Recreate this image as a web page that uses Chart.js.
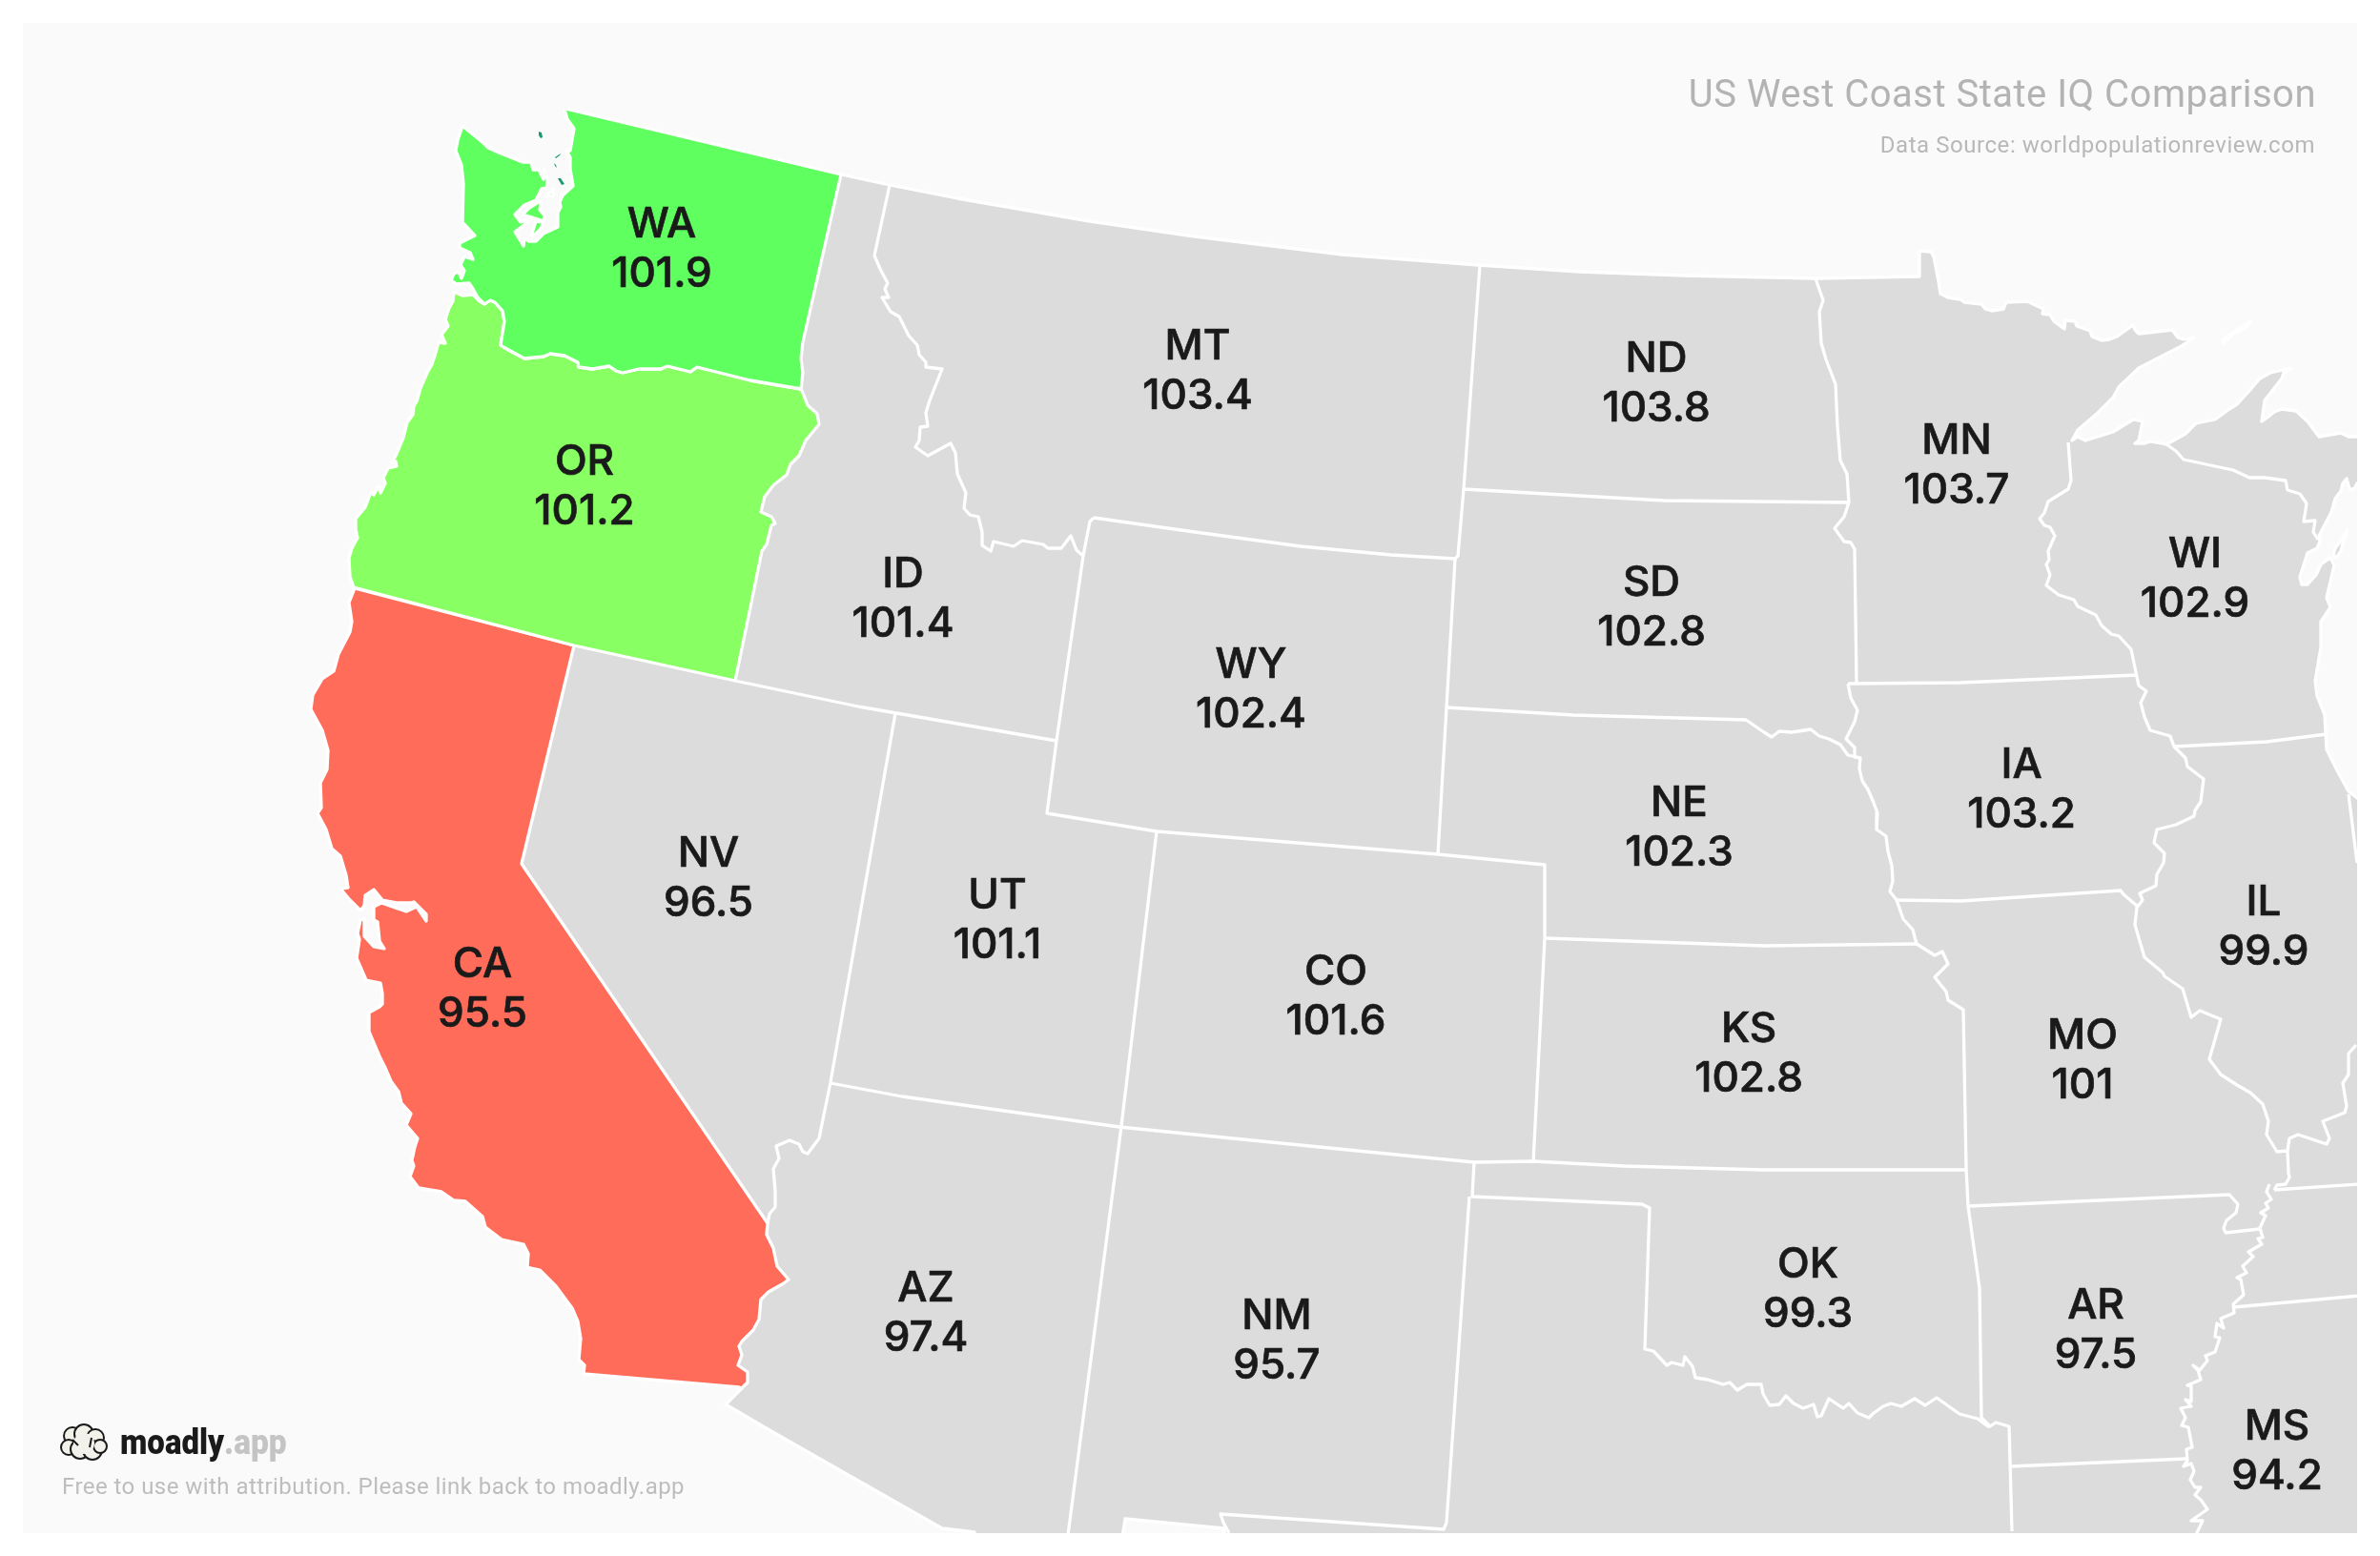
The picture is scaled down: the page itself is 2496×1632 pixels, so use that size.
<!DOCTYPE html>
<html>
<head>
<meta charset="utf-8">
<style>
  html, body { margin: 0; padding: 0; background: #ffffff; }
  #panel { position: absolute; left: 24px; top: 24px; width: 2448px; height: 1584px; background: #fafafa; }
</style>
<script src="https://cdn.jsdelivr.net/npm/chart.js@4/dist/chart.umd.js"></script>
</head>
<body>
<div id="panel"><canvas id="mapChart" width="2448" height="1584"></canvas></div>
<script>
// state labels and values
const stateCodes = ['WA','OR','CA','NV','ID','MT','WY','UT','CO','AZ','NM','ND','SD','NE','KS','OK','MN','IA','MO','AR','WI','IL','MS'];
const stateIQ = [101.9,101.2,95.5,96.5,101.4,103.4,102.4,101.1,101.6,97.4,95.7,103.8,102.8,102.3,102.8,99.3,103.7,103.2,101,97.5,102.9,99.9,94.2];
const labelX = [694,613,506,743,947,1256,1312,1046,1401,971,1339,1737,1732,1761,1834,1896,2052,2120,2184,2198,2302,2374,2388];
const labelY = [259,508,1035,919,626,387,721,963,1043,1375,1404,400,635,866,1103,1350,486,826,1110,1393,605,970,1520];

// map geometry, in map units
const waOrBorder = [[840,408],[787,399],[731,385],[724,390],[700,384],[693,387],[670,387],[653,391],[646,389],[639,384],[621,387],[607,385],[606,380],[592,373],[577,371],[570,374],[550,376],[528,364],[525,362],[529,337],[527,326],[519,317],[514,315],[508,319]];
const waOutline = [[593,114],[882,183],[842,359],[840,376],[842,391]].concat(waOrBorder,[[501,312],[496,303],[492,297],[479,298],[473,294],[476,287],[481,285],[484,292],[487,284],[483,278],[487,269],[496,272],[493,265],[482,260],[482,255],[498,247],[485,233],[486,193],[484,173],[478,158],[480,147],[485,132],[507,150],[512,155],[523,160],[548,170],[557,170],[559,178],[565,178],[570,188],[571,178],[574,188],[574,197],[568,198],[562,210],[550,215],[540,225],[546,233],[558,229],[547,238],[540,243],[549,258],[550,250],[555,253],[562,253],[570,245],[585,238],[585,223],[588,217],[587,212],[590,205],[601,195],[598,177],[598,165],[594,158],[598,158],[602,135],[595,125],[592,115],[593,114]]);
const kitsapOutline = [[548,225],[555,218],[568,210],[566,220],[571,226],[570,232],[558,228],[548,225]];
const bainbridgeOutline = [[573,205],[581,198],[580,205],[573,206],[573,205]];
const vashonOutline = [[557,248],[562,232],[570,233],[567,240],[560,247],[557,248]];
const islandA = [[565,138],[568,139],[569,144],[567,145],[565,142],[565,138]];
const islandB = [[585,187],[588,187],[592,193],[589,194],[585,187]];
const islandC = [[582,165],[588,161],[587,163],[583,166],[582,165]];
const islandD = [[581,171],[583,173],[584,176],[582,174],[581,171]];
const orOutline = [[476,306],[475,316],[471,323],[467,335],[470,342],[463,351],[467,360],[460,359],[456,373],[453,382],[448,391],[441,407],[437,421],[434,426],[433,435],[427,443],[423,459],[415,478],[411,485],[415,484],[416,489],[407,491],[402,501],[404,507],[399,517],[397,510],[392,519],[389,516],[383,532],[373,544],[373,555],[375,564],[369,575],[366,585],[367,605],[371,616],[602,677],[771,714],[787,637],[799,578],[804,571],[809,551],[813,549],[809,542],[798,537],[802,521],[811,509],[825,498],[829,487],[838,478],[845,462],[859,445],[857,434],[847,425],[842,412]].concat(waOrBorder,[[503,316],[496,309],[485,310],[476,306]]);
const caOutline = [[372,617],[602,677],[547,906],[805,1283],[804,1295],[811,1309],[815,1328],[827,1342],[822,1346],[806,1355],[798,1363],[796,1384],[790,1395],[778,1407],[775,1412],[778,1421],[774,1432],[784,1439],[784,1450],[778,1456],[775,1455],[612,1441],[613,1432],[607,1426],[609,1404],[606,1386],[600,1372],[583,1349],[572,1338],[566,1332],[557,1330],[553,1329],[554,1315],[549,1305],[526,1300],[509,1287],[506,1276],[488,1260],[476,1259],[463,1250],[439,1246],[430,1234],[434,1223],[432,1217],[435,1203],[438,1194],[426,1180],[431,1168],[421,1157],[418,1145],[410,1134],[404,1120],[398,1108],[387,1082],[387,1062],[398,1056],[401,1053],[401,1042],[399,1031],[384,1028],[374,1005],[377,985],[375,979],[378,965],[382,963],[382,982],[392,993],[403,995],[398,987],[396,967],[392,965],[392,951],[400,947],[426,956],[437,951],[447,966],[447,959],[434,946],[430,947],[417,947],[401,944],[392,933],[383,939],[382,950],[378,955],[367,944],[357,932],[365,931],[363,918],[357,898],[348,890],[342,870],[333,853],[337,847],[336,821],[343,807],[344,787],[338,766],[326,744],[328,729],[338,712],[350,704],[355,686],[367,663],[369,652],[366,632],[372,617]];
const landOutline = [[882,183],[933,194],[1004,208],[1143,232],[1253,248],[1408,267],[1551,278],[1657,285],[1767,289],[1904,292],[2013,290],[2013,263],[2025,264],[2028,269],[2033,295],[2035,308],[2043,312],[2056,314],[2060,317],[2078,319],[2082,324],[2089,326],[2101,324],[2104,317],[2126,316],[2143,324],[2142,329],[2150,330],[2154,337],[2165,345],[2166,336],[2176,337],[2178,342],[2192,347],[2194,353],[2204,357],[2212,356],[2220,353],[2237,341],[2239,346],[2243,350],[2278,346],[2284,354],[2290,356],[2301,354],[2286,364],[2274,370],[2243,386],[2222,406],[2216,417],[2200,433],[2179,451],[2173,462],[2179,458],[2187,462],[2216,453],[2237,440],[2247,442],[2243,462],[2239,465],[2249,465],[2255,463],[2272,466],[2292,455],[2303,444],[2323,440],[2338,429],[2346,424],[2358,411],[2370,397],[2381,391],[2403,386],[2395,391],[2393,397],[2375,420],[2372,442],[2379,437],[2385,432],[2393,429],[2408,431],[2420,442],[2432,458],[2455,454],[2463,458],[2472,458],[2490,458],[2490,507],[2472,507],[2469,513],[2464,513],[2461,502],[2457,507],[2455,515],[2449,523],[2445,537],[2432,562],[2433,568],[2430,575],[2420,580],[2412,605],[2414,613],[2420,613],[2429,603],[2434,592],[2444,585],[2448,593],[2440,627],[2444,637],[2434,652],[2434,679],[2428,714],[2430,730],[2438,750],[2440,786],[2451,808],[2463,830],[2472,837],[2490,837],[2490,1625],[1290,1625],[1283,1603],[1180,1593],[1175,1625],[1022,1625],[1022,1607],[988,1603],[900,1553],[807,1500],[761,1473],[778,1456],[770,1440],[720,1400],[500,1000],[500,700],[600,300],[650,200],[882,183]];
const isleRoyale = [[2331,356],[2360,337],[2356,343],[2342,350],[2331,361],[2331,356]];
const doorOutline = [[2462,555],[2455,567],[2449,575],[2447,582],[2450,585],[2455,578],[2457,570],[2462,555]];

// inner state lines
const borderLines = [
  [[933,194],[917,268],[923,282],[931,297],[928,303],[932,312],[925,312],[934,327],[943,332],[953,352],[962,362],[964,372],[971,380],[971,385],[988,387],[975,420],[971,433],[973,447],[965,448],[964,462],[960,469],[973,478],[997,465],[1002,475],[1004,497],[1013,517],[1011,533],[1017,540],[1026,542],[1030,558],[1030,572],[1039,578],[1042,568],[1063,573],[1072,567],[1094,571],[1099,575],[1113,575],[1123,562],[1129,577],[1136,583]],
  [[1147,543],[1143,547],[1136,583],[1108,777],[1098,853],[1213,872],[1508,896],[1517,742],[1526,586],[1459,582],[1364,573],[1253,558],[1147,543]],
  [[1552,278],[1535,513],[1529,583],[1526,586]],
  [[1535,513],[1657,520],[1745,525],[1939,527]],
  [[1904,292],[1912,315],[1908,327],[1910,360],[1915,377],[1925,403],[1927,447],[1930,483],[1937,497],[1939,527],[1934,542],[1924,554],[1934,568],[1941,569],[1945,576],[1947,716]],
  [[1938,717],[1941,732],[1948,745],[1945,757],[1936,775],[1945,784],[1945,794],[1951,795],[1950,806],[1953,819],[1959,828],[1965,842],[1969,853],[1968,870],[1978,877],[1980,893],[1984,908],[1985,924],[1982,935],[1989,944],[1996,964],[2006,975],[2010,990],[2029,1002],[2037,998],[2043,1011],[2029,1025],[2041,1040],[2043,1049],[2059,1059],[2062,1225],[2064,1265],[2076,1351],[2078,1487],[2087,1496],[2093,1492],[2107,1496],[2110,1606]],
  [[1938,717],[2056,716],[2241,708]],
  [[2169,464],[2172,504],[2169,513],[2148,526],[2144,538],[2139,544],[2144,551],[2150,553],[2155,562],[2148,578],[2149,587],[2146,592],[2150,603],[2146,614],[2159,624],[2175,629],[2179,636],[2198,645],[2204,656],[2214,665],[2222,667],[2235,681],[2241,710],[2243,719],[2251,725],[2245,737],[2249,752],[2255,766],[2276,772],[2280,783],[2292,795],[2294,804],[2311,817],[2308,841],[2302,850],[2301,856],[2282,865],[2262,870],[2259,884],[2270,895],[2269,905],[2262,917],[2261,929],[2244,937],[2247,944],[2241,952],[2239,970],[2249,1004],[2268,1020],[2270,1024],[2289,1037],[2298,1067],[2307,1060],[2329,1069],[2317,1111],[2329,1127],[2346,1138],[2360,1146],[2373,1158],[2379,1176],[2377,1190],[2388,1208],[2399,1207],[2400,1230],[2401,1235],[2397,1242],[2388,1243],[2385,1248]],
  [[2380,1242],[2377,1250],[2382,1258],[2376,1262],[2379,1267],[2371,1272],[2376,1275],[2370,1288],[2373,1298],[2368,1299],[2372,1305],[2358,1313],[2363,1318],[2352,1328],[2356,1335],[2346,1340],[2350,1342],[2353,1358],[2342,1368],[2343,1377],[2329,1383],[2332,1393],[2325,1388],[2323,1402],[2328,1403],[2323,1418],[2313,1422],[2315,1427],[2307,1437],[2300,1432],[2305,1437],[2308,1447],[2294,1453],[2298,1454],[2298,1470],[2292,1468],[2298,1475],[2287,1477],[2292,1487],[2288,1495],[2295,1497],[2299,1518],[2293,1520],[2294,1532],[2290,1538],[2298,1535],[2301,1543],[2297,1552],[2302,1560],[2308,1560],[2302,1568],[2308,1573],[2315,1583],[2298,1595],[2310,1595],[2303,1610]],
  [[2280,783],[2377,778],[2440,770]],
  [[2272,466],[2282,473],[2290,482],[2342,493],[2359,501],[2375,501],[2397,504],[2399,514],[2412,518],[2419,528],[2416,547],[2428,546],[2426,558],[2431,566]],
  [[1989,944],[2056,945],[2224,934],[2227,938],[2241,950]],
  [[2399,1207],[2401,1194],[2410,1190],[2440,1200],[2443,1194],[2436,1176],[2459,1167],[2461,1160],[2457,1136],[2463,1127],[2463,1105],[2471,1096]],
  [[2463,833],[2472,905]],
  [[2385,1248],[2475,1242]],
  [[2343,1371],[2475,1359]],
  [[2065,1265],[2270,1256],[2338,1253],[2347,1263],[2345,1272],[2335,1280],[2332,1288],[2334,1293],[2370,1289]],
  [[2109,1538],[2270,1531],[2293,1530]],
  [[1620,984],[1850,992],[2010,990]],
  [[871,1136],[946,1150],[1174,1182],[1283,1193],[1474,1212],[1546,1219],[1608,1218],[1703,1223],[1849,1227],[2063,1227]],
  [[1546,1218],[1544,1255],[1722,1263],[1730,1267],[1725,1415],[1734,1417],[1748,1432],[1753,1429],[1765,1432],[1767,1423],[1775,1433],[1778,1445],[1791,1447],[1807,1452],[1814,1450],[1822,1458],[1832,1452],[1847,1452],[1849,1462],[1856,1474],[1866,1473],[1873,1464],[1881,1472],[1891,1477],[1902,1473],[1906,1486],[1910,1485],[1918,1467],[1933,1477],[1939,1472],[1948,1482],[1960,1487],[1965,1482],[1975,1475],[1983,1472],[1994,1475],[2008,1467],[2019,1474],[2031,1466],[2055,1483],[2074,1488],[2086,1497]],
  [[1541,1255],[1517,1597],[1514,1604],[1280,1588],[1283,1597],[1289,1608]],
  [[1213,872],[1176,1181],[1120,1610]],
  [[1508,896],[1620,907],[1620,984],[1608,1219]],
  [[1517,742],[1650,750],[1831,755],[1850,768],[1858,773],[1866,767],[1879,768],[1899,765],[1908,772],[1918,775],[1924,778],[1930,781],[1938,792],[1951,795]],
  [[771,714],[900,741],[1108,777]],
  [[939,748],[871,1135],[859,1194],[847,1210],[842,1208],[838,1200],[828,1196],[814,1202],[817,1215],[811,1226],[813,1249],[813,1266],[807,1273],[805,1283]]
];

const toPoints = (pts) => pts.map(p => ({x: p[0], y: p[1]}));

const shape = (pts, color, order) => ({
  data: toPoints(pts), showLine: true, fill: 'shape', backgroundColor: color,
  borderColor: '#ffffff', borderWidth: 3.3, pointRadius: 0, tension: 0,
  borderJoinStyle: 'round', clip: 0, order: order
});
const line = (pts) => ({
  data: toPoints(pts), showLine: true, fill: false,
  borderColor: '#ffffff', borderWidth: 3.3, pointRadius: 0, tension: 0,
  borderJoinStyle: 'round', clip: 0, order: 2
});
const island = (pts) => Object.assign(shape(pts, '#1d9a6c', 0), {borderWidth: 0});

const datasets = [
  shape(landOutline, '#dcdcdc', 3),
  shape(isleRoyale, '#dcdcdc', 3),
  shape(doorOutline, '#dcdcdc', 3)
].concat(borderLines.map(line), [
  shape(waOutline, '#5fff5f', 1),
  shape(kitsapOutline, '#5fff5f', 1),
  shape(bainbridgeOutline, '#5fff5f', 1),
  shape(vashonOutline, '#5fff5f', 1),
  shape(orOutline, '#88ff62', 1),
  shape(caOutline, '#ff6d5a', 1),
  island(islandA), island(islandB), island(islandC), island(islandD)
]);

const stateText = {
  id: 'stateText',
  afterDatasetsDraw(chart) {
    const {ctx, scales: {x, y}} = chart;
    ctx.save();
    ctx.fillStyle = '#1a1a1a';
    ctx.strokeStyle = '#1a1a1a';
    ctx.lineWidth = 0.7;
    ctx.textAlign = 'center';
    ctx.textBaseline = 'alphabetic';
    ctx.font = '500 44px Inter';
    stateCodes.forEach((code, i) => {
      const px = x.getPixelForValue(labelX[i]);
      const py = y.getPixelForValue(labelY[i]);
      ctx.fillText(code, px, py - 10);
      ctx.strokeText(code, px, py - 10);
      ctx.fillText(String(stateIQ[i]), px, py + 42);
      ctx.strokeText(String(stateIQ[i]), px, py + 42);
    });
    ctx.restore();
  }
};

const headerFooter = {
  id: 'headerFooter',
  afterDraw(chart) {
    const {ctx, scales: {x, y}} = chart;
    const tx = (t, vx, vy, font, color, align, spacing, stretch) => {
      ctx.save();
      ctx.font = font;
      ctx.fillStyle = color;
      ctx.textAlign = align;
      ctx.letterSpacing = (spacing || 0) + 'px';
      ctx.translate(x.getPixelForValue(vx), y.getPixelForValue(vy));
      ctx.scale(stretch || 1, 1);
      ctx.fillText(t, 0, 0);
      ctx.restore();
    };
    ctx.save();
    ctx.textBaseline = 'alphabetic';
    tx('US West Coast State IQ Comparison', 2429, 112, '400 40px Roboto', '#b3b3b3', 'right', 0.5);
    tx('Data Source: worldpopulationreview.com', 2428, 160, '400 24px Roboto', '#b8b8b8', 'right', 0.55);
    tx('moadly', 126, 1525, '900 36px Roboto', '#1a1a1a', 'left', 0, 0.915);
    tx('.app', 235, 1525, '900 36px Roboto', '#c4c4c4', 'left', 0, 0.93);
    tx('Free to use with attribution. Please link back to moadly.app', 65, 1567, '400 24px Roboto', '#bdbdbd', 'left', 0.45);

    // logo
    const blobs = [[76,1506,9],[88,1504,10],[100,1508,9],[72,1518,8],[84,1520,10],[97,1521,10],[105,1517,7]];
    ctx.fillStyle = '#f2f1ea';
    ctx.strokeStyle = '#1a1a1a';
    ctx.lineWidth = 2;
    blobs.forEach(b => {
      ctx.beginPath();
      ctx.arc(x.getPixelForValue(b[0]), y.getPixelForValue(b[1]), b[2], 0, Math.PI * 2);
      ctx.fill();
      ctx.stroke();
    });
    ctx.beginPath();
    ctx.arc(x.getPixelForValue(88), y.getPixelForValue(1514), 11, 0, Math.PI * 2);
    ctx.fill();
    ctx.beginPath();
    ctx.moveTo(x.getPixelForValue(76), y.getPixelForValue(1510));
    ctx.lineTo(x.getPixelForValue(82), y.getPixelForValue(1516));
    ctx.moveTo(x.getPixelForValue(96), y.getPixelForValue(1508));
    ctx.lineTo(x.getPixelForValue(94), y.getPixelForValue(1518));
    ctx.stroke();
    ctx.restore();
  }
};

new Chart(document.getElementById('mapChart').getContext('2d'), {
  type: 'scatter',
  data: {datasets: datasets},
  options: {
    responsive: false,
    devicePixelRatio: 1,
    animation: false,
    layout: {padding: 0},
    plugins: {legend: {display: false}, tooltip: {enabled: false}, title: {display: false}},
    scales: {
      x: {type: 'linear', min: 24, max: 2472, display: false},
      y: {type: 'linear', min: 24, max: 1608, reverse: true, display: false}
    }
  },
  plugins: [stateText, headerFooter]
});
</script>
</body>
</html>
